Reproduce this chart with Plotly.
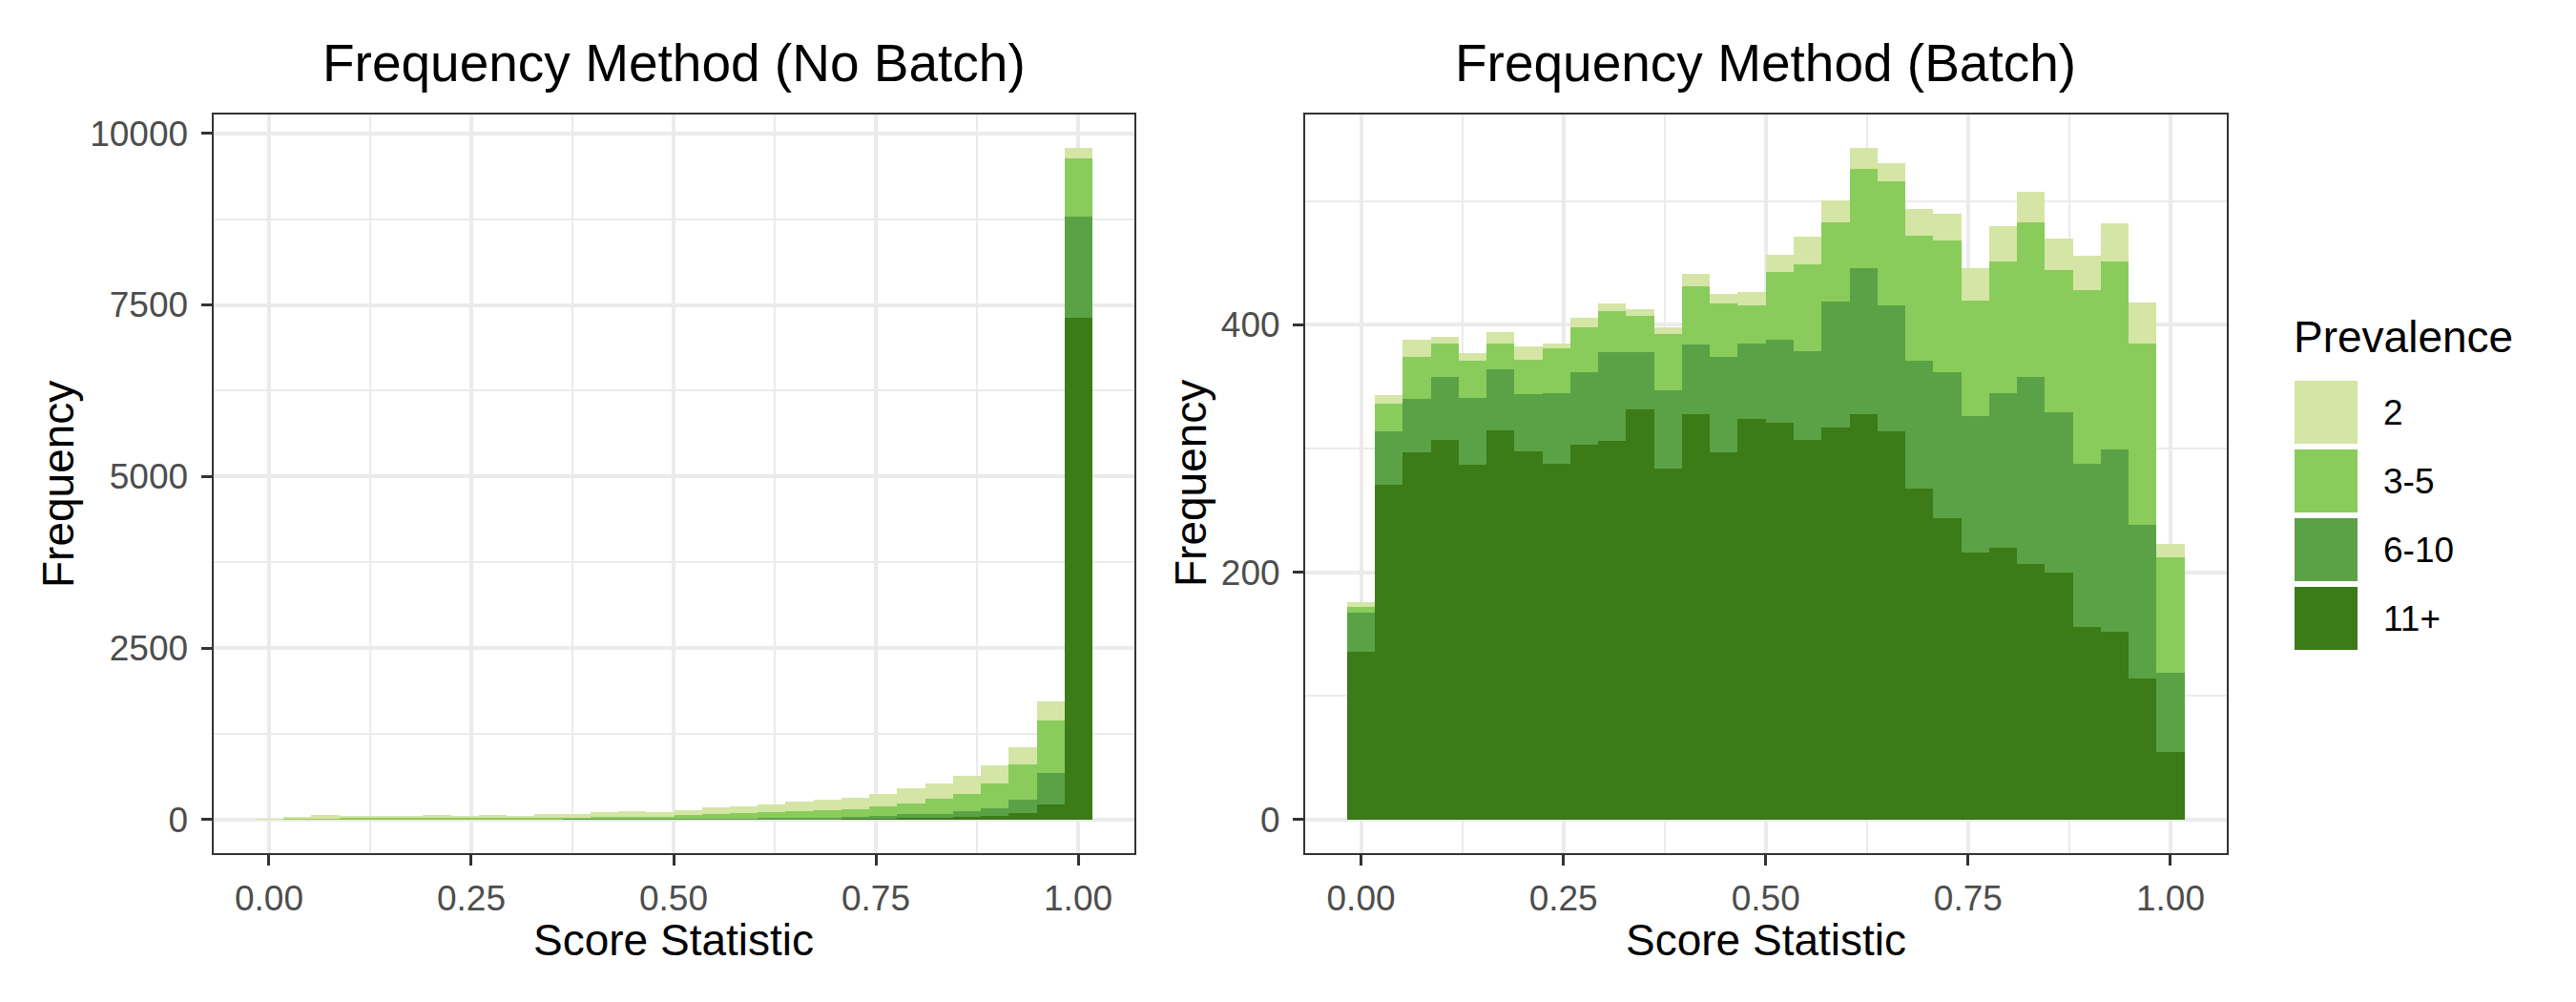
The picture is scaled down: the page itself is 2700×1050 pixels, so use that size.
import plotly.graph_objects as go

# histogram counts, 30 bins centred on k/29 (ggplot bins=30), stacked bottom -> top
categories = ["11+", "6-10", "3-5", "2"]
colors = ["#3B7B18", "#5BA246", "#8ACC5B", "#D4E5A5"]

nobatch_11 = [0, 0, 2, 1, 1, 1, 2, 2, 2, 2, 2, 3, 3, 8, 3,
              3, 3, 4, 5, 5, 5, 9, 14, 23, 23, 37, 51, 92, 217, 7314]
nobatch_6_10 = [0, 0, 3, 3, 3, 8, 7, 7, 7, 8, 8, 11, 12, 8, 12,
                6, 11, 14, 18, 27, 23, 28, 37, 55, 55, 83, 110, 194, 456, 1473]
nobatch_3_5 = [8, 9, 9, 24, 24, 19, 19, 19, 19, 22, 22, 18, 27, 26, 27,
               56, 64, 74, 83, 88, 106, 111, 138, 153, 222, 249, 360, 512, 776, 849]
nobatch_2 = [2, 33, 55, 28, 28, 28, 41, 28, 41, 24, 51, 51, 69, 83, 69,
             69, 97, 97, 111, 138, 152, 166, 180, 221, 221, 263, 263, 263, 276, 149]

batch_11 = [136, 271, 297, 307, 287, 315, 298, 288, 303, 306, 332, 284, 328, 297, 324,
            321, 307, 317, 328, 314, 268, 244, 216, 220, 207, 200, 156, 152, 114, 55]
batch_6_10 = [31, 43, 43, 51, 54, 49, 46, 57, 59, 72, 46, 63, 56, 77, 61,
              67, 72, 102, 118, 102, 103, 118, 110, 125, 151, 129, 132, 147, 124, 64]
batch_3_5 = [5, 22, 34, 27, 30, 21, 28, 36, 36, 33, 29, 46, 47, 43, 31,
             55, 70, 64, 80, 100, 101, 106, 94, 106, 125, 115, 140, 152, 147, 93]
batch_2 = [4, 7, 14, 5, 6, 9, 11, 4, 8, 6, 6, 5, 10, 8, 11,
           14, 22, 18, 17, 15, 22, 22, 26, 29, 25, 26, 28, 31, 33, 11]

n_bins = 30
binwidth = 1 / (n_bins - 1)
centers = [k * binwidth for k in range(n_bins)]

x_ticks = [0, 0.25, 0.5, 0.75, 1.0]
x_ticktext = ["0.00", "0.25", "0.50", "0.75", "1.00"]
left_yticks = [0, 2500, 5000, 7500, 10000]
right_yticks = [0, 200, 400]

titles = ["Frequency Method (No Batch)", "Frequency Method (Batch)"]
xlabel = "Score Statistic"
ylabel = "Frequency"
legend_title = "Prevalence"

W, H = 2700, 1050
FONT = "Liberation Sans"

# panel placement in pixels
panels = [(223.5, 1188.5), (1368, 2333.5)]
ptop, pbot = 120, 894


def px(x):
    return x / W


def py(y):
    return 1 - y / H


fig = go.Figure()

series = [
    [nobatch_11, nobatch_6_10, nobatch_3_5, nobatch_2],
    [batch_11, batch_6_10, batch_3_5, batch_2],
]
for i, panel in enumerate(series):
    ax = "" if i == 0 else "2"
    for cat, col, vals in zip(categories, colors, panel):
        fig.add_trace(go.Bar(
            x=centers, y=vals, width=binwidth, name=cat,
            marker=dict(color=col, line=dict(width=0)),
            xaxis="x" + ax, yaxis="y" + ax, showlegend=False,
        ))

# ggplot-like 5% expansion
xpad = 0.05 * (1 + binwidth)
xr = [-binwidth / 2 - xpad, 1 + binwidth / 2 + xpad]


def yrange(panel):
    top = max(sum(v) for v in zip(*panel))
    return [-0.05 * top, 1.05 * top]


grid = "#EBEBEB"
axis_common = dict(
    showline=True, mirror=True, linecolor="#333333", linewidth=2,
    ticks="outside", ticklen=11, tickwidth=2.5, tickcolor="#333333",
    tickfont=dict(family=FONT, size=37, color="#4D4D4D"),
    showgrid=True, gridcolor=grid, gridwidth=4, zeroline=False,
    ticklabelstandoff=3,
)

layout_axes = {}
for i, (x0, x1) in enumerate(panels):
    ax = "" if i == 0 else "2"
    yt = left_yticks if i == 0 else right_yticks
    ydt = 1250 if i == 0 else 100
    layout_axes["xaxis" + ax] = dict(
        axis_common, domain=[px(x0), px(x1)], range=xr, anchor="y" + ax,
        tickvals=x_ticks, ticktext=x_ticktext,
        minor=dict(tick0=0, dtick=0.125, showgrid=True, gridcolor=grid, gridwidth=2, ticks=""),
    )
    layout_axes["yaxis" + ax] = dict(
        axis_common, domain=[py(pbot), py(ptop)], range=yrange(series[i]), anchor="x" + ax,
        tickvals=yt, ticktext=[str(v) for v in yt],
        ticklabelstandoff=6,
        minor=dict(tick0=0, dtick=ydt, showgrid=True, gridcolor=grid, gridwidth=2, ticks=""),
    )

annotations = []
shapes = []
for i, (x0, x1) in enumerate(panels):
    xc = (x0 + x1) / 2
    annotations.append(dict(text=titles[i], x=px(xc), y=py(66), xref="paper", yref="paper",
                            showarrow=False, xanchor="center", yanchor="middle",
                            font=dict(family=FONT, size=55, color="black")))
    annotations.append(dict(text=xlabel, x=px(xc), y=py(985), xref="paper", yref="paper",
                            showarrow=False, xanchor="center", yanchor="middle",
                            font=dict(family=FONT, size=46, color="black")))
    ylx = 61 if i == 0 else 1248
    annotations.append(dict(text=ylabel, x=px(ylx), y=py((ptop + pbot) / 2), xref="paper",
                            yref="paper", showarrow=False, textangle=-90,
                            xanchor="center", yanchor="middle",
                            font=dict(family=FONT, size=46, color="black")))

# legend drawn by hand so the keys can be ggplot-sized
annotations.append(dict(text=legend_title, x=px(2402), y=py(353), xref="paper", yref="paper",
                        showarrow=False, xanchor="left", yanchor="middle",
                        font=dict(family=FONT, size=46, color="black")))
key_top, key_size, key_step = 399, 66, 72
for j, (cat, col) in enumerate(zip(categories[::-1], colors[::-1])):
    t = key_top + j * key_step
    shapes.append(dict(type="rect", xref="paper", yref="paper",
                       x0=px(2405), x1=px(2405 + key_size), y0=py(t + key_size), y1=py(t),
                       fillcolor=col, line=dict(width=0)))
    annotations.append(dict(text=cat, x=px(2496), y=py(t + key_size / 2), xref="paper",
                            yref="paper", showarrow=False, xanchor="left", yanchor="middle",
                            font=dict(family=FONT, size=37, color="black")))

fig.update_layout(
    width=W, height=H,
    margin=dict(l=0, r=0, t=0, b=0),
    paper_bgcolor="white", plot_bgcolor="white",
    barmode="stack", bargap=0,
    showlegend=False,
    annotations=annotations, shapes=shapes,
    font=dict(family=FONT),
    **layout_axes,
)

# drop the browser's default body margin so the figure sits at the page corner
fig.write_html("out.html", config={"displayModeBar": False},
               post_script="document.body.style.margin='0px';")
